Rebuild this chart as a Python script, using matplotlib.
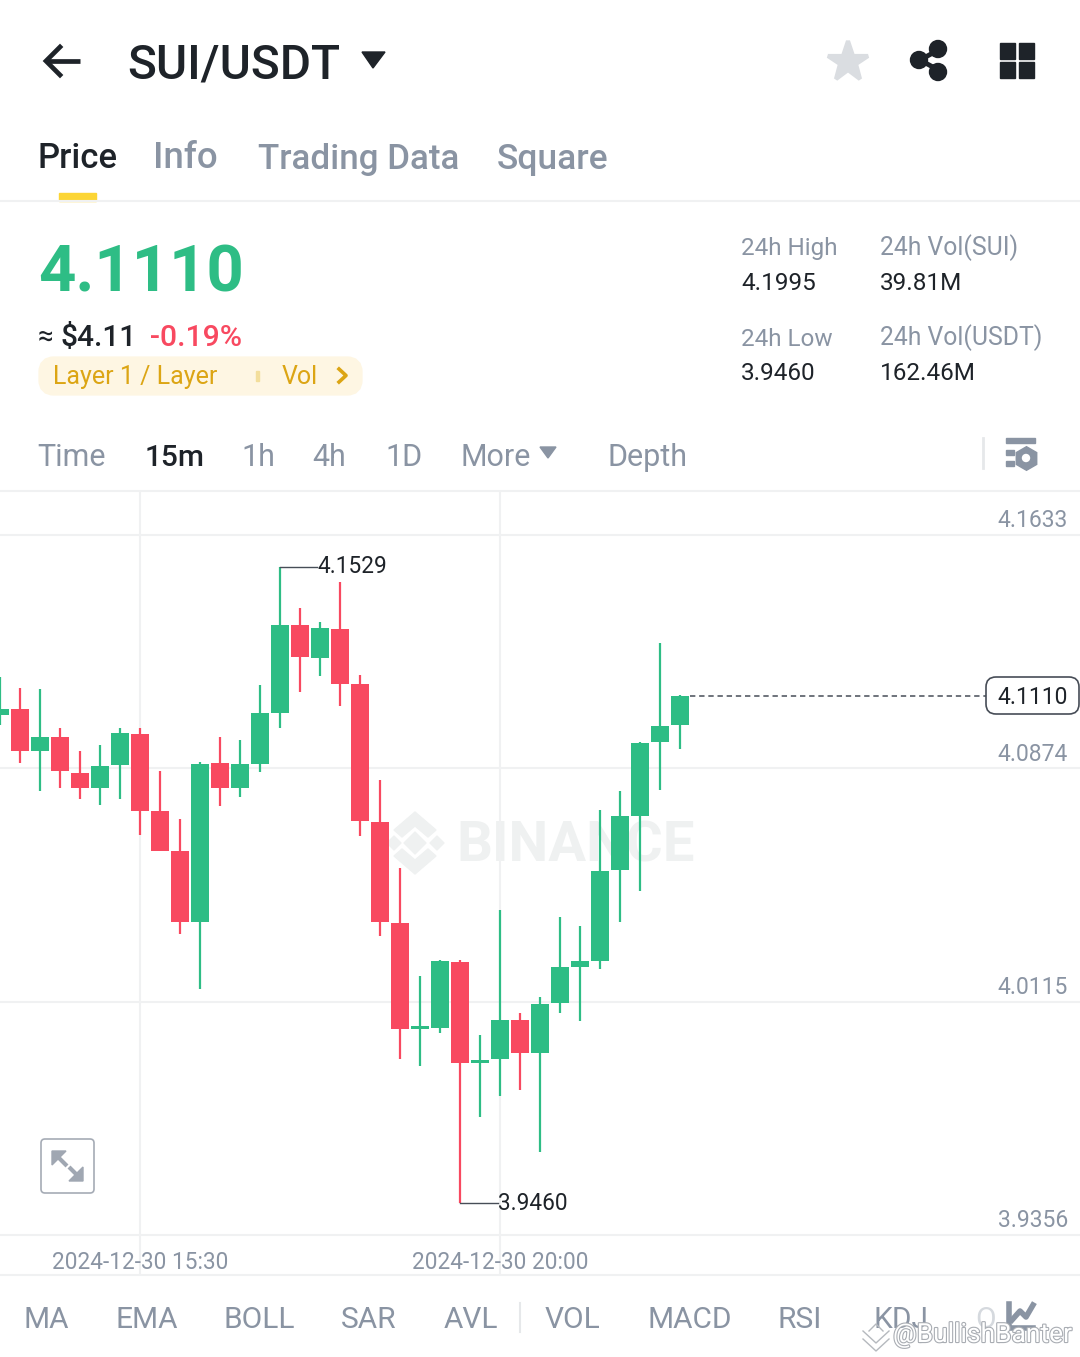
import numpy as np
import matplotlib
matplotlib.use("Agg")
import matplotlib.pyplot as plt
import matplotlib.patheffects as pe
from matplotlib.patches import FancyBboxPatch, Polygon, Circle, Rectangle

plt.rcParams['font.family'] = ['Roboto', 'DejaVu Sans']

# candle data (15m candles)
opens = [4.1047, 4.1067, 4.0930, 4.0976, 4.0859, 4.0810, 4.0885, 4.0986, 4.0735, 4.0605, 4.0374, 4.0891,
         4.0810, 4.0888, 4.1054, 4.1340, 4.1233, 4.1327, 4.1148, 4.0699, 4.0371, 4.0026, 4.0029, 4.0244,
         3.9915, 3.9928, 4.0055, 3.9948, 4.0110, 4.0228, 4.0247, 4.0543, 4.0719, 4.0959, 4.1015]
closes = [4.1067, 4.0930, 4.0976, 4.0865, 4.0810, 4.0881, 4.0989, 4.0735, 4.0605, 4.0374, 4.0888, 4.0810,
          4.0888, 4.1054, 4.1340, 4.1236, 4.1330, 4.1148, 4.0703, 4.0374, 4.0026, 4.0036, 4.0247, 3.9915,
          3.9925, 4.0055, 3.9948, 4.0107, 4.0228, 4.0247, 4.0540, 4.0719, 4.0956, 4.1012, 4.1110]
highs = [4.1171, 4.1135, 4.1132, 4.1005, 4.0930, 4.0950, 4.1005, 4.1005, 4.0865, 4.0709, 4.0894, 4.0976,
         4.0966, 4.1145, 4.1529, 4.1395, 4.1350, 4.1480, 4.1176, 4.0836, 4.0550, 4.0198, 4.0252, 4.0250,
         4.0006, 4.0413, 4.0078, 4.0130, 4.0390, 4.0361, 4.0738, 4.0800, 4.0959, 4.1282, 4.1113]
lows = [4.1015, 4.0891, 4.0800, 4.0810, 4.0774, 4.0755, 4.0774, 4.0657, 4.0605, 4.0335, 4.0156, 4.0751,
        4.0781, 4.0862, 4.1005, 4.1122, 4.1174, 4.1077, 4.0654, 4.0328, 3.9928, 3.9906, 4.0013, 3.9460,
        3.9740, 3.9808, 3.9827, 3.9626, 4.0078, 4.0052, 4.0221, 4.0374, 4.0475, 4.0803, 4.0937]

price_ticks = [4.1633, 4.0874, 4.0115, 3.9356]
time_positions = [7, 25]
time_labels = ['2024-12-30 15:30', '2024-12-30 20:00']
last_price = 4.1110
high_index, high_price = 14, 4.1529
low_index, low_price = 23, 3.9460

DARK = '#1E2329'
GREY = '#8A94A3'
GRID = '#F0F1F2'
GREEN = '#2EBD85'
RED = '#F84960'
W, H = 1080, 1357

fig = plt.figure(figsize=(10.8, 13.57), dpi=100, facecolor='white')

# overlay in pixel coords for the app chrome
ui = fig.add_axes([0, 0, 1, 1], zorder=1)
ui.set_xlim(0, W)
ui.set_ylim(H, 0)
ui.axis('off')


def label(x, y, s, size=19, color=GREY, ha='left', weight='normal', **kw):
    return ui.text(x, y, s, fontsize=size, color=color, ha=ha, va='center', fontweight=weight, **kw)


# header
ui.plot([48, 80], [61, 61], color=DARK, lw=3.4, solid_capstyle='butt')
ui.plot([60, 46, 60], [47, 61, 75], color=DARK, lw=3.4, solid_joinstyle='miter')
label(127, 65, 'SUI/USDT', size=34.5, color=DARK, weight='medium')
ui.add_patch(Polygon([[362, 52], [385, 52], [373, 68]], color=DARK))

ui.plot([847.5], [62], marker='*', ms=30, color='#DADDE1', mec='#DADDE1', mew=3, ls='none')
ui.plot([920, 942], [60, 48], color=DARK, lw=3.5)
ui.plot([920, 942], [60, 72], color=DARK, lw=3.5)
for cx, cy, r in [(919, 60, 8.5), (938, 49, 8.5), (938, 72, 8.5)]:
    ui.add_patch(Circle((cx, cy), r, color=DARK))
for x0, y0 in [(1000, 43), (1019, 43), (1000, 62), (1019, 62)]:
    ui.add_patch(Rectangle((x0, y0), 15, 15.5, color=DARK))

# tabs
label(37.5, 159, 'Price', size=25, color=DARK, weight='medium')
label(153.5, 159, 'Info', size=26.5, color=GREY, weight='medium')
label(258, 159, 'Trading Data', size=25.2, color=GREY, weight='medium')
label(497, 159, 'Square', size=25.5, color=GREY, weight='medium')
ui.add_patch(Rectangle((59, 193), 37, 8, color='#FCD535'))
ui.plot([0, W], [201, 201], color=GRID, lw=1.5)

# price block
label(38, 274, '4.1110', size=47, color=GREEN, weight='bold')
label(38, 338, '≈', size=20, color=DARK)
label(61, 338, '$4.11', size=21.5, color=DARK, weight='medium')
label(150, 338, '-0.19%', size=21.8, color=RED, weight='medium')
ui.add_patch(FancyBboxPatch((46, 364), 309, 24, boxstyle='round,pad=0,rounding_size=8', mutation_aspect=1,
                            fc='#FEF6E3', ec='#FEF6E3', lw=11))
label(53, 377, 'Layer 1 / Layer', size=18, color='#DCA514')
ui.add_patch(Rectangle((256, 371), 2.5, 10, color='#F3DE9B'))
label(282, 377, 'Vol', size=18, color='#DCA514')
ui.plot([339, 346, 339], [369, 375.5, 382], color='#DCA514', lw=2.6)

# 24h stats
label(741, 249, '24h High', size=17.5)
label(741, 284, '4.1995', size=17.5, color=DARK)
label(880, 248, '24h Vol(SUI)', size=17.8)
label(880, 283, '39.81M', size=17.5, color=DARK)
label(741, 339, '24h Low', size=17.5)
label(741, 374, '3.9460', size=17.5, color=DARK)
label(880, 338, '24h Vol(USDT)', size=17.8)
label(880, 373, '162.46M', size=17.5, color=DARK)

# interval row
for x, s in [(37.5, 'Time'), (241.5, '1h'), (312.5, '4h'), (385.5, '1D'), (460.5, 'More'), (607, 'Depth')]:
    label(x, 458, s, size=22)
label(144.5, 458, '15m', size=21.5, color=DARK, weight='medium')
ui.add_patch(Polygon([[540, 447], [556, 447], [548, 458]], color=GREY))
ui.plot([983, 983], [438, 468], color='#E6E8EA', lw=2)
ui.add_patch(Rectangle((1006, 438), 29, 5, color=GREY))
ui.add_patch(Rectangle((1006, 450), 8, 5, color=GREY))
ui.add_patch(Rectangle((1006, 461), 8, 5, color=GREY))
ui.plot([1026], [458], marker='h', ms=17, color=GREY, mec=GREY)
ui.add_patch(Circle((1026, 458), 3.5, color='white', zorder=5))

# watermark sits under the candles
wm = '#EFF1F1'
for cx, cy, r in [(415, 843, 11), (394, 843, 7), (437, 843, 7)]:
    ui.add_patch(Polygon([[cx - r, cy], [cx, cy - r], [cx + r, cy], [cx, cy + r]], color=wm))
ui.add_patch(Polygon([[415, 812], [436, 830], [428, 837], [415, 826], [402, 837], [394, 830]], color=wm))
ui.add_patch(Polygon([[415, 874], [436, 856], [428, 849], [415, 860], [402, 849], [394, 856]], color=wm))
label(456, 847, 'BINANCE', size=40.5, color=wm, weight='bold')

# bottom indicators
for x, s in [(23.5, 'MA'), (115, 'EMA'), (223, 'BOLL'), (341, 'SAR'), (444, 'AVL'),
             (545, 'VOL'), (648, 'MACD'), (777, 'RSI'), (874, 'KDJ')]:
    label(x, 1320, s, size=21.5)
label(975, 1320, 'O', size=21.5, color='#D5D9DE')
ui.plot([520, 520], [1303, 1332], color='#E6E8EA', lw=1.5)
ui.plot([1009, 1009, 1033], [1304, 1328, 1328], color=GREY, lw=4, solid_joinstyle='miter')
ui.plot([1012, 1020, 1026, 1033], [1320, 1311, 1317, 1305], color=GREY, lw=4)

# chart area, from y=491 to y=1275 in pixels
top_px, bottom_px = 491, 1275
ax = fig.add_axes([0, 1 - bottom_px / H, 1, (bottom_px - top_px) / H], zorder=2)
ax.patch.set_alpha(0)
per_px = (price_ticks[0] - price_ticks[3]) / (1235 - 535)
ax.set_ylim(price_ticks[3] - (bottom_px - 1235) * per_px, price_ticks[0] + (535 - top_px) * per_px)
ax.set_xlim(0, 54)
for s in ax.spines.values():
    s.set_visible(False)
ax.spines['top'].set_visible(True)
ax.spines['bottom'].set_visible(True)
ax.spines['top'].set_color(GRID)
ax.spines['bottom'].set_color(GRID)
ax.spines['top'].set_linewidth(1.5)
ax.spines['bottom'].set_linewidth(1.5)

ax.set_yticks(price_ticks)
ax.set_yticklabels([])
ax.set_xticks(time_positions)
ax.set_xticklabels(time_labels, fontsize=16.3, color=GREY)
ax.tick_params(axis='x', length=0, pad=-17)
ax.tick_params(axis='y', length=0)
ax.grid(True, color=GRID, lw=1.5)
ax.set_axisbelow(True)

for p in price_ticks:
    ax.annotate(f'{p:.4f}', xy=(1, p), xycoords=('axes fraction', 'data'), xytext=(-8.6, 10.2),
                textcoords='offset points', ha='right', va='center', fontsize=16.5, color=GREY)

# candles
o = np.array(opens)
c = np.array(closes)
x = np.arange(len(o))
colors = [GREEN if c[i] >= o[i] else RED for i in x]
ax.vlines(x, lows, highs, colors=colors, lw=1.6, zorder=3)
ax.bar(x, np.abs(c - o), bottom=np.minimum(o, c), width=0.88, color=colors, zorder=4)

# high and low markers
ax.plot([high_index, high_index + 1.85], [high_price, high_price], color='#474D57', lw=1, zorder=3)
ax.text(high_index + 1.85, high_price, f'{high_price:.4f}', fontsize=16.3, color=DARK, va='center')
ax.plot([low_index, low_index + 1.9], [low_price, low_price], color='#474D57', lw=1, zorder=3)
ax.text(low_index + 1.9, low_price, f'{low_price:.4f}', fontsize=16.3, color=DARK, va='center')

# last price line
ax.plot([34.5, 49.3], [last_price, last_price], color='#474D57', lw=1.1, ls=(0, (3.5, 2.5)), zorder=3)

# expand button and price tag, above the chart
ui2 = fig.add_axes([0, 0, 1, 1], zorder=3)
ui2.set_xlim(0, W)
ui2.set_ylim(H, 0)
ui2.axis('off')
ui2.add_patch(FancyBboxPatch((986, 677), 93, 37, boxstyle='round,pad=0,rounding_size=10', fc='white',
                             ec='#474D57', lw=1.2))
ui2.text(1033, 697, f'{last_price:.4f}', fontsize=16.5, color=DARK, ha='center', va='center')

ui2.add_patch(FancyBboxPatch((41, 1139), 53, 54, boxstyle='round,pad=0,rounding_size=4', fc='white',
                             ec='#A5ABB5', lw=1.2))
ui2.add_patch(Polygon([[52, 1151], [66, 1151], [52, 1165]], color='#A0A7B2'))
ui2.add_patch(Polygon([[83, 1181], [69, 1181], [83, 1167]], color='#A0A7B2'))
ui2.plot([57, 67], [1156, 1166], color='#A0A7B2', lw=3, solid_capstyle='butt')
ui2.plot([78, 69], [1176, 1167], color='#A0A7B2', lw=3, solid_capstyle='butt')

# site watermark on top
stroke = [pe.withStroke(linewidth=1.6, foreground='#A9ADB3')]
ui2.text(893, 1335, '@BullishBanter', fontsize=19, color='white', va='center', path_effects=stroke)
for dy in [0, 8]:
    ui2.plot([863, 876, 889], [1331 + dy, 1343 + dy, 1331 + dy], color='#B5B9BE', lw=1)
ui2.plot([869, 876, 883], [1331, 1324, 1331], color='#B5B9BE', lw=1)

fig.savefig('out.png', dpi=100)
